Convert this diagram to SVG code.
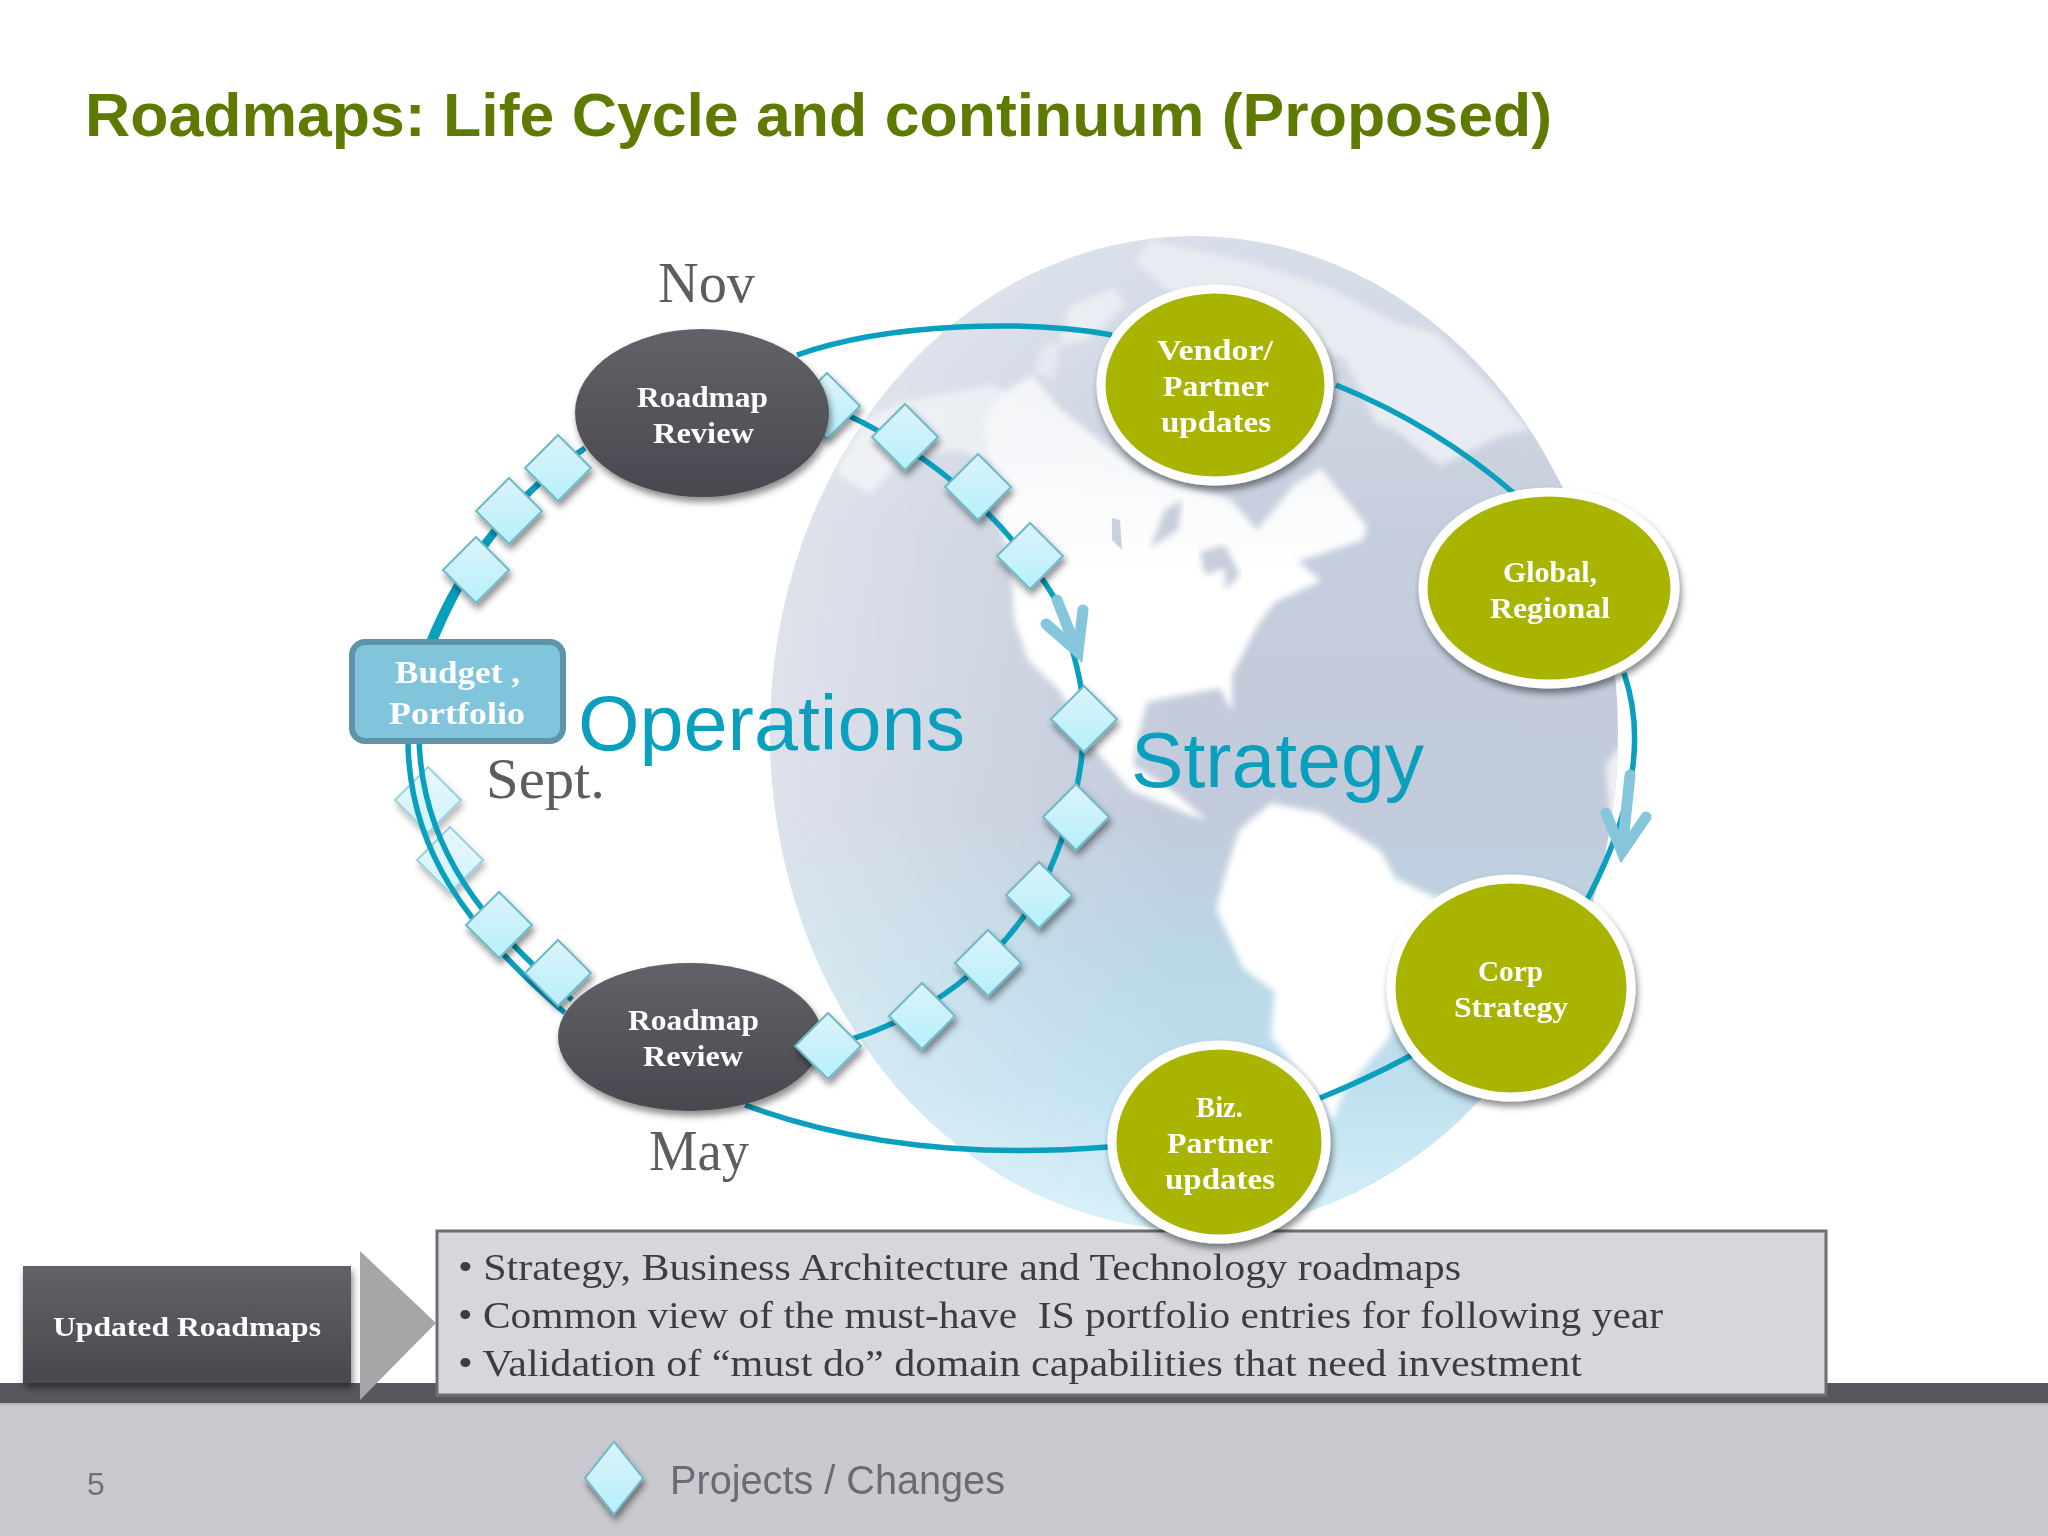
<svg xmlns="http://www.w3.org/2000/svg" width="2048" height="1536" viewBox="0 0 2048 1536">
<style>
.nt{font-family:"Liberation Serif",serif;font-weight:bold;font-size:30px;fill:#fff}
.ar{font-family:"Liberation Sans",Arial,sans-serif}
.mon{font-family:"Liberation Serif",serif;font-size:56px;fill:#5c5c61}
.big{font-family:"Liberation Sans",Arial,sans-serif;font-size:78px;fill:#0a9fbd}
.bul{font-family:"Liberation Serif",serif;font-size:38px;fill:#3c3c42}
.ring{fill:none;stroke:#0a9fbd;stroke-width:5.5;stroke-linecap:butt}
.olive{fill:#a9b400;stroke:#fff;stroke-width:9}
.chev{fill:none;stroke:#85c6dc;stroke-width:11;stroke-linecap:round;stroke-linejoin:miter}
</style>
<defs>
<linearGradient id="gb" x1="0" y1="0" x2="0" y2="1"><stop offset="0" stop-color="#d8dfea"/><stop offset=".3" stop-color="#c6cedd"/><stop offset=".58" stop-color="#c2cbdb"/><stop offset=".72" stop-color="#bad7e6"/><stop offset=".85" stop-color="#bfe0ee"/><stop offset="1" stop-color="#d8f2fb"/></linearGradient>
<linearGradient id="gf" x1="0" y1="0" x2="1" y2="0"><stop offset="0" stop-color="#fff" stop-opacity=".45"/><stop offset=".3" stop-color="#fff" stop-opacity=".15"/><stop offset=".48" stop-color="#fff" stop-opacity="0"/></linearGradient>
<linearGradient id="gl" x1="0" y1="0" x2="0" y2="1"><stop offset="0" stop-color="#f0f2f6"/><stop offset=".45" stop-color="#fff"/></linearGradient>
<linearGradient id="gd" x1="0" y1="0" x2="0" y2="1"><stop offset="0" stop-color="#dcf3f9"/><stop offset="1" stop-color="#b6f0fc"/></linearGradient>
<linearGradient id="gn" x1="0" y1="0" x2="0" y2="1"><stop offset="0" stop-color="#626268"/><stop offset="1" stop-color="#48484e"/></linearGradient>
<filter id="sh" x="-20%" y="-20%" width="140%" height="150%"><feDropShadow dx="2" dy="5" stdDeviation="3.5" flood-color="#000" flood-opacity=".45"/></filter>
<filter id="b2" x="-5%" y="-5%" width="110%" height="110%"><feGaussianBlur stdDeviation="3"/></filter>
<clipPath id="cg"><ellipse cx="1194" cy="733" rx="424" ry="497"/></clipPath>
<path id="dia" d="M0,-33 L33,0 L0,33 L-33,0 Z" fill="url(#gd)" stroke="#6fb8c8" stroke-width="2"/>
</defs>
<rect width="2048" height="1536" fill="#fff"/>
<text class="ar" x="85" y="136" font-size="61" font-weight="bold" fill="#5f7a00" textLength="1467" lengthAdjust="spacingAndGlyphs">Roadmaps: Life Cycle and continuum (Proposed)</text>

<g id="globe" clip-path="url(#cg)">
<rect x="760" y="230" width="880" height="1010" fill="url(#gb)"/>
<g filter="url(#b2)">
<path fill="#e8ebf1" d="M1150,240 L1250,262 L1330,288 L1395,322 L1436,333 L1490,385 L1530,430 L1500,436 L1440,466 L1395,430 L1376,423 L1345,360 L1290,335 L1240,310 L1180,300 L1135,262 Z"/>
<path fill="#e8ebf1" d="M1069,306 L1115,288 L1125,305 L1088,340 L1060,345 Z"/>
<path fill="#e2e6ed" d="M1040,350 L1060,340 L1055,380 L1035,372 Z"/>
<path fill="#eef0f4" fill-opacity=".8" d="M835,472 L866,420 L900,402 L993,385 L1020,400 L1000,470 L960,450 L905,455 L870,495 Z"/>
<path fill="url(#gl)" d="M985,420 L1000,395 L1032,375 L1060,409 L1138,471 L1230,499 L1257,530 L1294,485 L1321,468 L1367,526 L1363,540 L1298,561 L1321,581 L1275,602 L1257,626 L1232,675 L1232,712 L1220,688 L1147,702 L1138,736 L1133,765 L1174,792 L1207,820 L1190,815 L1130,790 L1092,746 L1060,691 L1028,660 L1014,619 L1012,570 L995,500 Z"/>
<path fill="#fff" d="M1239,830 L1271,803 L1321,813 L1381,851 L1395,878 L1432,896 L1460,900 L1400,1000 L1390,1037 L1345,1090 L1330,1126 L1321,1099 L1271,1037 L1275,992 L1243,968 L1216,909 L1225,875 Z"/>
<path fill="#eef0f4" d="M1606,765 L1625,740 L1625,830 L1610,820 Z"/>
</g>
<path fill="#c6cddb" d="M1165,510 L1182,500 L1178,530 L1150,548 Z" filter="url(#b2)"/>
<path fill="#c6cddb" d="M1112,518 L1120,520 L1122,550 L1112,540 Z"/>
<path fill="#c6cddb" d="M1200,552 L1225,545 L1240,575 L1225,590 L1225,568 L1205,575 Z" filter="url(#b2)"/>
<rect x="760" y="230" width="880" height="1010" fill="url(#gf)"/>
</g>

<g id="connectors">
<use href="#dia" x="428" y="800" opacity=".65" filter="url(#sh)"/>
<use href="#dia" x="450" y="860" opacity=".65" filter="url(#sh)"/>
<path class="ring" d="M797,355 C890,322 1030,320 1112,335"/>
<path class="ring" d="M1336,385 C1410,415 1470,455 1516,495"/>
<path class="ring" d="M1624,673 C1640,720 1645,790 1587,900"/>
<path class="ring" d="M1412,1055 Q1365,1080 1320,1098"/>
<path class="ring" d="M1108,1147 C1020,1154 880,1155 745,1105"/>
<path class="ring" d="M827,406 C920,445 1000,510 1054,597 C1075,650 1084,690 1084,720 C1084,790 1060,850 1039,893 C1000,960 930,1020 828,1046"/>
<path class="ring" d="M585,448 C520,490 465,560 427,660"/>
<path class="ring" d="M583,450 C510,495 452,575 422,660"/>
<path class="ring" d="M408,730 C405,850 470,930 565,1013"/>
<path class="ring" d="M419,730 C418,850 490,930 572,1000"/>
</g>

<g id="chevrons">
<path class="chev" d="M1057,600 L1078,652 M1083,610 L1078,652 L1046,624"/>
<path class="chev" d="M1630,775 L1622,852 M1606,813 L1622,852 L1646,817"/>
</g>

<g id="diamonds" filter="url(#sh)">
<use href="#dia" x="827" y="406"/>
<use href="#dia" x="905" y="437"/>
<use href="#dia" x="978" y="487"/>
<use href="#dia" x="1030" y="556"/>
<use href="#dia" x="1084" y="719"/>
<use href="#dia" x="1076" y="817"/>
<use href="#dia" x="1039" y="895"/>
<use href="#dia" x="988" y="963"/>
<use href="#dia" x="922" y="1016"/>
<use href="#dia" x="558" y="468"/>
<use href="#dia" x="509" y="511"/>
<use href="#dia" x="476" y="570"/>
<use href="#dia" x="558" y="973"/>
<use href="#dia" x="499" y="925"/>
</g>

<text class="big" x="578" y="750" textLength="387" lengthAdjust="spacingAndGlyphs">Operations</text>
<text class="big" x="1131" y="787" textLength="293" lengthAdjust="spacingAndGlyphs">Strategy</text>
<text class="mon" x="658" y="302" textLength="97" lengthAdjust="spacingAndGlyphs">Nov</text>
<text class="mon" x="486" y="798" textLength="119" lengthAdjust="spacingAndGlyphs">Sept.</text>
<text class="mon" x="649" y="1170" textLength="100" lengthAdjust="spacingAndGlyphs">May</text>

<g id="review-top">
<ellipse cx="702" cy="413" rx="127" ry="84" fill="url(#gn)" filter="url(#sh)"/>
<text class="nt" x="637" y="407" textLength="131" lengthAdjust="spacingAndGlyphs">Roadmap</text>
<text class="nt" x="653" y="443" textLength="101" lengthAdjust="spacingAndGlyphs">Review</text>
</g>
<g id="review-bottom">
<ellipse cx="690" cy="1037" rx="132" ry="74" fill="url(#gn)" filter="url(#sh)"/>
<text class="nt" x="628" y="1030" textLength="131" lengthAdjust="spacingAndGlyphs">Roadmap</text>
<text class="nt" x="643" y="1066" textLength="100" lengthAdjust="spacingAndGlyphs">Review</text>
</g>
<use href="#dia" x="828" y="1046" filter="url(#sh)"/>
<g id="vendor">
<ellipse class="olive" cx="1215" cy="385" rx="114" ry="96" filter="url(#sh)"/>
<text class="nt" x="1157" y="360" textLength="116" lengthAdjust="spacingAndGlyphs">Vendor/</text>
<text class="nt" x="1163" y="396" textLength="106" lengthAdjust="spacingAndGlyphs">Partner</text>
<text class="nt" x="1161" y="432" textLength="110" lengthAdjust="spacingAndGlyphs">updates</text>
</g>
<g id="global">
<ellipse class="olive" cx="1549" cy="588" rx="126" ry="96" filter="url(#sh)"/>
<text class="nt" x="1503" y="582" textLength="94" lengthAdjust="spacingAndGlyphs">Global,</text>
<text class="nt" x="1490" y="618" textLength="120" lengthAdjust="spacingAndGlyphs">Regional</text>
</g>
<g id="corp">
<ellipse class="olive" cx="1511" cy="988" rx="120" ry="109" filter="url(#sh)"/>
<text class="nt" x="1478" y="981" textLength="65" lengthAdjust="spacingAndGlyphs">Corp</text>
<text class="nt" x="1454" y="1017" textLength="114" lengthAdjust="spacingAndGlyphs">Strategy</text>
</g>
<g id="budget">
<rect x="352" y="642" width="211" height="99" rx="13" fill="#80c5dc" stroke="#5f93a9" stroke-width="6"/>
<text class="nt" x="395" y="683" style="font-size:32px" textLength="125" lengthAdjust="spacingAndGlyphs">Budget ,</text>
<text class="nt" x="389" y="724" style="font-size:32px" textLength="136" lengthAdjust="spacingAndGlyphs">Portfolio</text>
</g>

<g id="footer">
<rect y="1383" width="2048" height="21" fill="#57575d"/>
<rect y="1404" width="2048" height="132" fill="#c9c9cf"/>
<rect y="1403" width="2048" height="2" fill="#b3b3b8"/>
<text class="ar" x="87" y="1495" font-size="32" fill="#6f6f74">5</text>
<use href="#dia" transform="translate(614,1478) scale(.88,1.1)" filter="url(#sh)"/>
<text class="ar" x="670" y="1494" font-size="40" fill="#6b6b72" textLength="335" lengthAdjust="spacingAndGlyphs">Projects / Changes</text>
</g>
<g id="updated">
<rect x="23" y="1266" width="328" height="117" fill="url(#gn)" filter="url(#sh)"/>
<text class="nt" x="53" y="1336" style="font-size:28px" textLength="268" lengthAdjust="spacingAndGlyphs">Updated Roadmaps</text>
</g>
<polygon id="flow-arrow" points="360,1251 436,1323 360,1400" fill="#a6a6a9"/>
<g id="summary">
<rect x="437" y="1231" width="1389" height="164" fill="#d7d7db" stroke="#6d6d72" stroke-width="3"/>
<text class="bul" x="458" y="1280" textLength="1003" lengthAdjust="spacingAndGlyphs">• Strategy, Business Architecture and Technology roadmaps</text>
<text class="bul" x="458" y="1328" style="white-space:pre" textLength="1205" lengthAdjust="spacingAndGlyphs">• Common view of the must-have  IS portfolio entries for following year</text>
<text class="bul" x="458" y="1376" textLength="1124" lengthAdjust="spacingAndGlyphs">• Validation of “must do” domain capabilities that need investment</text>
</g>
<g id="biz">
<ellipse class="olive" cx="1219" cy="1142" rx="107" ry="97" filter="url(#sh)"/>
<text class="nt" x="1196" y="1117" textLength="47" lengthAdjust="spacingAndGlyphs">Biz.</text>
<text class="nt" x="1167" y="1153" textLength="106" lengthAdjust="spacingAndGlyphs">Partner</text>
<text class="nt" x="1165" y="1189" textLength="110" lengthAdjust="spacingAndGlyphs">updates</text>
</g>
</svg>
